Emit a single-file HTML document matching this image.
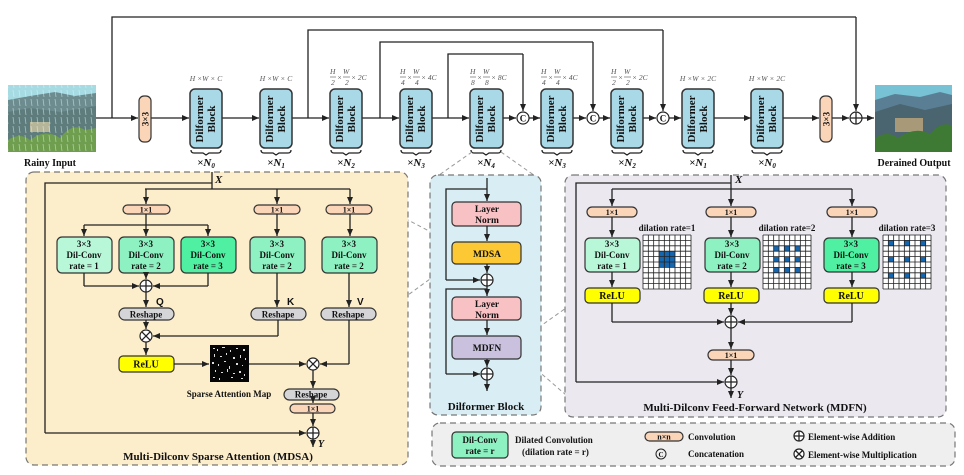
<!DOCTYPE html>
<html><head><meta charset="utf-8"><style>
html,body{margin:0;padding:0;background:#fff}
svg{display:block}
text{font-family:"Liberation Serif",serif;font-weight:bold;fill:#111}
.s{font-family:"Liberation Sans",sans-serif}
.dim{font-weight:normal;font-style:italic;font-size:7.5px;fill:#555}
.ln{stroke:#222;stroke-width:1.3;fill:none}
.ar{stroke:#222;stroke-width:1.3;fill:none;marker-end:url(#a)}
.blk{fill:#a9d9e7;stroke:#333;stroke-width:1.5}
.c11{fill:#fbd5b8;stroke:#333;stroke-width:1.2}
.rs{fill:#d5d5d8;stroke:#333;stroke-width:1.2}
.relu{fill:#ffff00;stroke:#333;stroke-width:1.2}
.dc1{fill:#b9f7d9;stroke:#333;stroke-width:1.2}
.dc2{fill:#8ef1c1;stroke:#333;stroke-width:1.2}
.dc3{fill:#4ff0a1;stroke:#333;stroke-width:1.2}
.op{fill:#fff;stroke:#222;stroke-width:1.2}
.dash{stroke:#999;stroke-width:1;stroke-dasharray:4,3;fill:none}
</style></head><body>
<svg width="964" height="475" viewBox="0 0 964 475" xmlns="http://www.w3.org/2000/svg">
<defs>
<marker id="a" markerWidth="8" markerHeight="8" refX="7" refY="3" orient="auto" markerUnits="userSpaceOnUse"><path d="M0,0 L7,3 L0,6 z" fill="#222"/></marker>
<pattern id="streak" width="6" height="9" patternUnits="userSpaceOnUse"><path d="M1,0 L2,7" stroke="#e8f4f6" stroke-width="0.8" opacity="0.55"/></pattern>
</defs>

<!-- images -->
<rect x="8" y="85" width="88" height="67" fill="#a6dbe4"/>
<path d="M8,100 L30,96 L55,92 L75,96 L96,93 V152 H8 Z" fill="#6c8c90"/>
<path d="M8,112 L30,108 L60,112 L96,106 V152 H8 Z" fill="#5e7c7c"/>
<rect x="30" y="122" width="20" height="10" fill="#b5b59a"/>
<path d="M8,140 Q20,132 30,140 Q45,128 60,138 Q72,122 85,130 L96,128 V152 H8 Z" fill="#6e9e4e"/>
<rect x="8" y="85" width="88" height="67" fill="url(#streak)"/>

<rect x="875" y="85" width="77" height="67" fill="#78c2d6"/>
<path d="M875,100 L895,94 L920,97 L940,92 L952,95 V152 H875 Z" fill="#5a7f94"/>
<path d="M875,112 L900,104 L925,110 L952,104 V152 H875 Z" fill="#4a6470"/>
<rect x="895" y="118" width="28" height="14" fill="#a89a78"/>
<path d="M875,138 Q888,130 898,138 Q915,126 930,134 Q942,120 952,126 V152 H875 Z" fill="#3f7a34"/>

<text x="50" y="166" font-size="10" text-anchor="middle">Rainy Input</text>
<text x="914" y="166" font-size="10" text-anchor="middle">Derained Output</text>

<!-- skip lines -->
<path class="ln" d="M112,118 V17 H856"/><path class="ar" d="M856,17 V111"/>
<path class="ln" d="M308,118 V30 H663"/><path class="ar" d="M663,30 V111"/>
<path class="ln" d="M380,118 V42 H593"/><path class="ar" d="M593,42 V111"/>
<path class="ln" d="M448,118 V54 H523"/><path class="ar" d="M523,54 V111"/>

<!-- main line arrows -->
<path class="ar" d="M96,118 H138"/><path class="ar" d="M151,118 H189"/>
<path class="ar" d="M222,118 H259"/><path class="ar" d="M292,118 H329"/>
<path class="ar" d="M362,118 H399"/><path class="ar" d="M432,118 H469"/>
<path class="ar" d="M503,118 H516"/><path class="ar" d="M529,118 H540"/>
<path class="ar" d="M573,118 H586"/><path class="ar" d="M599,118 H610"/>
<path class="ar" d="M643,118 H656"/><path class="ar" d="M669,118 H681"/>
<path class="ar" d="M714,118 H751"/><path class="ar" d="M782,118 H819"/>
<path class="ar" d="M832,118 H849"/><path class="ar" d="M862,118 H874"/>

<!-- 3x3 convs -->
<rect x="139" y="96" width="12" height="46" rx="5" class="c11"/>
<text transform="translate(148.5,119) rotate(-90)" font-size="9" text-anchor="middle">3×3</text>
<rect x="820" y="96" width="12" height="46" rx="5" class="c11"/>
<text transform="translate(829.5,119) rotate(-90)" font-size="9" text-anchor="middle">3×3</text>

<!-- concat circles and add -->
<circle cx="523" cy="118" r="6" class="op"/><text x="523" y="121.5" font-size="9" text-anchor="middle">C</text>
<circle cx="593" cy="118" r="6" class="op"/><text x="593" y="121.5" font-size="9" text-anchor="middle">C</text>
<circle cx="663" cy="118" r="6" class="op"/><text x="663" y="121.5" font-size="9" text-anchor="middle">C</text>
<circle cx="856" cy="118" r="6" class="op"/><path class="ln" d="M850,118 H862 M856,112 V124"/>

<!-- Dilformer blocks -->
<g font-size="11">
<rect x="190" y="89" width="32" height="59" rx="5" class="blk"/><text transform="translate(206,119) rotate(-90)" text-anchor="middle"><tspan x="0" y="-3">Dilformer</tspan><tspan x="0" y="9">Block</tspan></text>
<rect x="260" y="89" width="32" height="59" rx="5" class="blk"/><text transform="translate(276,119) rotate(-90)" text-anchor="middle"><tspan x="0" y="-3">Dilformer</tspan><tspan x="0" y="9">Block</tspan></text>
<rect x="330" y="89" width="32" height="59" rx="5" class="blk"/><text transform="translate(346,119) rotate(-90)" text-anchor="middle"><tspan x="0" y="-3">Dilformer</tspan><tspan x="0" y="9">Block</tspan></text>
<rect x="400" y="89" width="32" height="59" rx="5" class="blk"/><text transform="translate(416,119) rotate(-90)" text-anchor="middle"><tspan x="0" y="-3">Dilformer</tspan><tspan x="0" y="9">Block</tspan></text>
<rect x="470" y="89" width="33" height="59" rx="5" class="blk"/><text transform="translate(486,119) rotate(-90)" text-anchor="middle"><tspan x="0" y="-3">Dilformer</tspan><tspan x="0" y="9">Block</tspan></text>
<rect x="541" y="89" width="32" height="59" rx="5" class="blk"/><text transform="translate(557,119) rotate(-90)" text-anchor="middle"><tspan x="0" y="-3">Dilformer</tspan><tspan x="0" y="9">Block</tspan></text>
<rect x="611" y="89" width="32" height="59" rx="5" class="blk"/><text transform="translate(627,119) rotate(-90)" text-anchor="middle"><tspan x="0" y="-3">Dilformer</tspan><tspan x="0" y="9">Block</tspan></text>
<rect x="682" y="89" width="32" height="59" rx="5" class="blk"/><text transform="translate(698,119) rotate(-90)" text-anchor="middle"><tspan x="0" y="-3">Dilformer</tspan><tspan x="0" y="9">Block</tspan></text>
<rect x="751" y="89" width="32" height="59" rx="5" class="blk"/><text transform="translate(767,119) rotate(-90)" text-anchor="middle"><tspan x="0" y="-3">Dilformer</tspan><tspan x="0" y="9">Block</tspan></text>
</g>

<!-- braces -->
<g class="ln" stroke-width="0.9">
<path d="M191,150 q0,3 3,3 h9 l3,2 l3,-2 h9 q3,0 3,-3"/>
<path d="M261,150 q0,3 3,3 h9 l3,2 l3,-2 h9 q3,0 3,-3"/>
<path d="M331,150 q0,3 3,3 h9 l3,2 l3,-2 h9 q3,0 3,-3"/>
<path d="M401,150 q0,3 3,3 h9 l3,2 l3,-2 h9 q3,0 3,-3"/>
<path d="M471,150 q0,3 3,3 h9 l3,2 l3,-2 h9 q3,0 3,-3"/>
<path d="M542,150 q0,3 3,3 h9 l3,2 l3,-2 h9 q3,0 3,-3"/>
<path d="M612,150 q0,3 3,3 h9 l3,2 l3,-2 h9 q3,0 3,-3"/>
<path d="M683,150 q0,3 3,3 h9 l3,2 l3,-2 h9 q3,0 3,-3"/>
<path d="M752,150 q0,3 3,3 h9 l3,2 l3,-2 h9 q3,0 3,-3"/>
</g>
<g font-size="11" text-anchor="middle" font-style="italic">
<text x="206" y="166">×N<tspan font-size="7" dy="2">0</tspan></text>
<text x="276" y="166">×N<tspan font-size="7" dy="2">1</tspan></text>
<text x="346" y="166">×N<tspan font-size="7" dy="2">2</tspan></text>
<text x="416" y="166">×N<tspan font-size="7" dy="2">3</tspan></text>
<text x="486" y="166">×N<tspan font-size="7" dy="2">4</tspan></text>
<text x="557" y="166">×N<tspan font-size="7" dy="2">3</tspan></text>
<text x="627" y="166">×N<tspan font-size="7" dy="2">2</tspan></text>
<text x="698" y="166">×N<tspan font-size="7" dy="2">1</tspan></text>
<text x="767" y="166">×N<tspan font-size="7" dy="2">0</tspan></text>
</g>

<!-- dims -->
<g text-anchor="middle">
<text x="206" y="81" class="dim">H ×W × C</text>
<text x="276" y="81" class="dim">H ×W × C</text>
<text x="698" y="81" class="dim">H ×W × 2C</text>
<text x="767" y="81" class="dim">H ×W × 2C</text>
</g>
<g>
<g transform="translate(330,0)"><text x="0" y="74" class="dim">H</text><text x="1" y="85" class="dim">2</text><path d="M0,77 h6" stroke="#555" stroke-width="0.6"/><text x="7" y="80" class="dim">×</text><text x="13" y="74" class="dim">W</text><text x="15" y="85" class="dim">2</text><path d="M13,77 h7" stroke="#555" stroke-width="0.6"/><text x="21" y="80" class="dim">× 2C</text></g>
<g transform="translate(400,0)"><text x="0" y="74" class="dim">H</text><text x="1" y="85" class="dim">4</text><path d="M0,77 h6" stroke="#555" stroke-width="0.6"/><text x="7" y="80" class="dim">×</text><text x="13" y="74" class="dim">W</text><text x="15" y="85" class="dim">4</text><path d="M13,77 h7" stroke="#555" stroke-width="0.6"/><text x="21" y="80" class="dim">× 4C</text></g>
<g transform="translate(470,0)"><text x="0" y="74" class="dim">H</text><text x="1" y="85" class="dim">8</text><path d="M0,77 h6" stroke="#555" stroke-width="0.6"/><text x="7" y="80" class="dim">×</text><text x="13" y="74" class="dim">W</text><text x="15" y="85" class="dim">8</text><path d="M13,77 h7" stroke="#555" stroke-width="0.6"/><text x="21" y="80" class="dim">× 8C</text></g>
<g transform="translate(541,0)"><text x="0" y="74" class="dim">H</text><text x="1" y="85" class="dim">4</text><path d="M0,77 h6" stroke="#555" stroke-width="0.6"/><text x="7" y="80" class="dim">×</text><text x="13" y="74" class="dim">W</text><text x="15" y="85" class="dim">4</text><path d="M13,77 h7" stroke="#555" stroke-width="0.6"/><text x="21" y="80" class="dim">× 4C</text></g>
<g transform="translate(611,0)"><text x="0" y="74" class="dim">H</text><text x="1" y="85" class="dim">2</text><path d="M0,77 h6" stroke="#555" stroke-width="0.6"/><text x="7" y="80" class="dim">×</text><text x="13" y="74" class="dim">W</text><text x="15" y="85" class="dim">2</text><path d="M13,77 h7" stroke="#555" stroke-width="0.6"/><text x="21" y="80" class="dim">× 2C</text></g>
</g>

<!-- connector dashed lines -->
<path class="dash" d="M472,152 L432,180 M501,152 L538,178"/>
<path class="dash" d="M452,243 L408,220 M452,263 L408,295"/>
<path class="dash" d="M521,340 L566,308 M521,356 L566,395"/>

<!-- MDSA panel -->
<rect x="26" y="172" width="382" height="293" rx="8" fill="#fcedcb" stroke="#777" stroke-width="1.2" stroke-dasharray="6,4"/>
<text x="215" y="183" font-size="11" font-style="italic">X</text>
<path class="ln" d="M212,172 V189 M212,183 H45 V433"/><path class="ar" d="M45,433 H306"/>
<path class="ln" d="M145,189 H350"/>
<path class="ar" d="M146,189 V204"/><path class="ar" d="M277,189 V204"/><path class="ar" d="M350,189 V204"/>
<g font-size="9" text-anchor="middle">
<rect x="123" y="205" width="47" height="9" rx="4.5" class="c11"/><text x="146" y="212.5" font-size="8">1×1</text>
<rect x="254" y="205" width="46" height="9" rx="4.5" class="c11"/><text x="277" y="212.5" font-size="8">1×1</text>
<rect x="326" y="205" width="46" height="9" rx="4.5" class="c11"/><text x="349" y="212.5" font-size="8">1×1</text>
</g>
<path class="ln" d="M146,214 V225 M84,225 H208"/>
<path class="ar" d="M84,225 V236"/><path class="ar" d="M146,225 V236"/><path class="ar" d="M208,225 V236"/>
<path class="ar" d="M277,214 V236"/><path class="ar" d="M350,214 V236"/>
<g font-size="9" text-anchor="middle">
<rect x="57" y="237" width="55" height="36" rx="5" class="dc1"/><text x="84" y="247">3×3</text><text x="84" y="258">Dil-Conv</text><text x="84" y="269">rate = 1</text>
<rect x="119" y="237" width="55" height="36" rx="5" class="dc2"/><text x="146" y="247">3×3</text><text x="146" y="258">Dil-Conv</text><text x="146" y="269">rate = 2</text>
<rect x="181" y="237" width="55" height="36" rx="5" class="dc3"/><text x="208" y="247">3×3</text><text x="208" y="258">Dil-Conv</text><text x="208" y="269">rate = 3</text>
<rect x="250" y="237" width="55" height="36" rx="5" class="dc2"/><text x="277" y="247">3×3</text><text x="277" y="258">Dil-Conv</text><text x="277" y="269">rate = 2</text>
<rect x="322" y="237" width="55" height="36" rx="5" class="dc2"/><text x="349" y="247">3×3</text><text x="349" y="258">Dil-Conv</text><text x="349" y="269">rate = 2</text>
</g>
<path class="ln" d="M84,273 V286"/><path class="ar" d="M84,286 H139"/>
<path class="ln" d="M208,273 V286"/><path class="ar" d="M208,286 H153"/>
<path class="ar" d="M146,273 V279"/>
<circle cx="146" cy="286" r="6" class="op"/><path class="ln" d="M140,286 H152 M146,280 V292"/>
<path class="ar" d="M146,292 V307"/>
<path class="ar" d="M277,273 V307"/><path class="ar" d="M349,273 V307"/>
<text x="156" y="305" font-size="10" class="s">Q</text>
<text x="287" y="305" font-size="10" class="s">K</text>
<text x="357" y="305" font-size="10" class="s">V</text>
<g font-size="9" text-anchor="middle">
<rect x="119" y="308" width="55" height="12" rx="6" class="rs"/><text x="146" y="317.5">Reshape</text>
<rect x="251" y="308" width="55" height="12" rx="6" class="rs"/><text x="278" y="317.5">Reshape</text>
<rect x="321" y="308" width="55" height="12" rx="6" class="rs"/><text x="348" y="317.5">Reshape</text>
</g>
<path class="ar" d="M146,320 V329"/>
<path class="ln" d="M278,320 V336"/><path class="ar" d="M278,336 H153"/>
<circle cx="146" cy="336" r="6" class="op"/><path class="ln" d="M141.8,331.8 L150.2,340.2 M150.2,331.8 L141.8,340.2"/>
<path class="ar" d="M146,342 V355"/>
<rect x="119" y="356" width="55" height="16" rx="4" class="relu"/><text x="146" y="367.5" font-size="10" text-anchor="middle">ReLU</text>
<path class="ar" d="M174,364 H209"/>
<rect x="210" y="345" width="39" height="37" fill="#050505"/>
<g fill="#ddd">
<rect x="213" y="348" width="2" height="1"/><rect x="217" y="349" width="1" height="2"/><rect x="222" y="347" width="3" height="1"/><rect x="230" y="350" width="1" height="2"/><rect x="236" y="348" width="2" height="1"/><rect x="243" y="349" width="2" height="2"/>
<rect x="214" y="354" width="1" height="3"/><rect x="220" y="356" width="2" height="1"/><rect x="226" y="353" width="1" height="2"/><rect x="233" y="357" width="2" height="2"/><rect x="240" y="355" width="1" height="3"/><rect x="245" y="358" width="1" height="2"/>
<rect x="212" y="362" width="2" height="2"/><rect x="218" y="364" width="1" height="2"/><rect x="224" y="361" width="2" height="1"/><rect x="229" y="366" width="1" height="3"/><rect x="236" y="363" width="2" height="2"/><rect x="242" y="365" width="1" height="1"/>
<rect x="215" y="370" width="1" height="2"/><rect x="221" y="372" width="2" height="1"/><rect x="227" y="369" width="1" height="3"/><rect x="233" y="373" width="2" height="1"/><rect x="239" y="371" width="2" height="2"/><rect x="244" y="374" width="1" height="2"/>
<rect x="213" y="377" width="2" height="1"/><rect x="219" y="378" width="1" height="2"/><rect x="231" y="377" width="2" height="1"/><rect x="241" y="378" width="2" height="1"/>
</g>
<text x="229" y="397" font-size="9" text-anchor="middle">Sparse Attention Map</text>
<path class="ar" d="M249,364 H306"/>
<path class="ln" d="M349,320 V364"/><path class="ar" d="M349,364 H320"/>
<circle cx="313" cy="364" r="6" class="op"/><path class="ln" d="M308.8,359.8 L317.2,368.2 M317.2,359.8 L308.8,368.2"/>
<path class="ar" d="M313,370 V388"/>
<rect x="284" y="389" width="55" height="11" rx="5.5" class="rs"/><text x="311" y="397.5" font-size="9" text-anchor="middle">Reshape</text>
<path class="ar" d="M313,400 V403"/>
<rect x="290" y="404" width="45" height="9" rx="4.5" class="c11"/><text x="313" y="411.5" font-size="8" text-anchor="middle">1×1</text>
<path class="ar" d="M313,413 V426"/>
<circle cx="313" cy="433" r="6" class="op"/><path class="ln" d="M307,433 H319 M313,427 V439"/>
<path class="ar" d="M313,439 V447"/>
<text x="318" y="447" font-size="10" font-style="italic">Y</text>
<text x="218" y="460" font-size="11" text-anchor="middle">Multi-Dilconv Sparse Attention (MDSA)</text>

<!-- Dilformer Block panel -->
<rect x="430" y="175" width="111" height="240" rx="8" fill="#d9eef4" stroke="#777" stroke-width="1.2" stroke-dasharray="6,4"/>
<path class="ar" d="M487,178 V201"/>
<path class="ln" d="M487,189 H446 V280"/><path class="ar" d="M446,280 H480"/>
<rect x="452" y="202" width="69" height="24" rx="4" fill="#f8c1c4" stroke="#333" stroke-width="1.2"/>
<text x="487" y="212" font-size="9.5" text-anchor="middle">Layer</text><text x="487" y="223" font-size="9.5" text-anchor="middle">Norm</text>
<path class="ar" d="M487,226 V241"/>
<rect x="452" y="242" width="69" height="22" rx="4" fill="#fcc934" stroke="#333" stroke-width="1.2"/>
<text x="487" y="257" font-size="9.5" text-anchor="middle">MDSA</text>
<path class="ar" d="M487,264 V273"/>
<circle cx="487" cy="280" r="6" class="op"/><path class="ln" d="M481,280 H493 M487,274 V286"/>
<path class="ar" d="M487,286 V296"/>
<path class="ln" d="M487,289 H446 V374"/><path class="ar" d="M446,374 H480"/>
<rect x="452" y="297" width="69" height="23" rx="4" fill="#f8c1c4" stroke="#333" stroke-width="1.2"/>
<text x="487" y="307" font-size="9.5" text-anchor="middle">Layer</text><text x="487" y="318" font-size="9.5" text-anchor="middle">Norm</text>
<path class="ar" d="M487,320 V335"/>
<rect x="452" y="336" width="69" height="23" rx="4" fill="#c9c1dd" stroke="#333" stroke-width="1.2"/>
<text x="487" y="351" font-size="9.5" text-anchor="middle">MDFN</text>
<path class="ar" d="M487,359 V367"/>
<circle cx="487" cy="374" r="6" class="op"/><path class="ln" d="M481,374 H493 M487,368 V380"/>
<path class="ar" d="M487,380 V391"/>
<text x="486" y="410" font-size="11" text-anchor="middle">Dilformer Block</text>

<!-- MDFN panel -->
<rect x="565" y="175" width="381" height="242" rx="8" fill="#ebe8f0" stroke="#777" stroke-width="1.2" stroke-dasharray="6,4"/>
<text x="735" y="183" font-size="11" font-style="italic">X</text>
<path class="ln" d="M731,175 V189 M731,183 H576 V382"/><path class="ar" d="M576,382 H724"/>
<path class="ln" d="M612,189 H852"/>
<path class="ar" d="M612,189 V206"/><path class="ar" d="M731,189 V206"/><path class="ar" d="M852,189 V206"/>
<rect x="587" y="207" width="50" height="10" rx="5" class="c11"/><text x="612" y="215" font-size="8" text-anchor="middle">1×1</text>
<rect x="706" y="207" width="50" height="10" rx="5" class="c11"/><text x="731" y="215" font-size="8" text-anchor="middle">1×1</text>
<rect x="827" y="207" width="50" height="10" rx="5" class="c11"/><text x="852" y="215" font-size="8" text-anchor="middle">1×1</text>
<path class="ar" d="M612,217 V237"/><path class="ar" d="M731,217 V237"/><path class="ar" d="M852,217 V237"/>
<g font-size="9" text-anchor="middle">
<rect x="585" y="238" width="55" height="34" rx="5" class="dc1"/><text x="612" y="247">3×3</text><text x="612" y="258">Dil-Conv</text><text x="612" y="269">rate = 1</text>
<rect x="705" y="238" width="55" height="34" rx="5" class="dc2"/><text x="732" y="247">3×3</text><text x="732" y="258">Dil-Conv</text><text x="732" y="269">rate = 2</text>
<rect x="824" y="238" width="55" height="34" rx="5" class="dc3"/><text x="851" y="247">3×3</text><text x="851" y="258">Dil-Conv</text><text x="851" y="269">rate = 3</text>
</g>
<path class="ar" d="M612,272 V287"/><path class="ar" d="M731,272 V287"/><path class="ar" d="M852,272 V287"/>
<rect x="585" y="288" width="55" height="15" rx="4" class="relu"/><text x="612" y="299" font-size="10" text-anchor="middle">ReLU</text>
<rect x="704" y="288" width="55" height="15" rx="4" class="relu"/><text x="731" y="299" font-size="10" text-anchor="middle">ReLU</text>
<rect x="824" y="288" width="55" height="15" rx="4" class="relu"/><text x="851" y="299" font-size="10" text-anchor="middle">ReLU</text>
<path class="ln" d="M612,303 V322"/><path class="ar" d="M612,322 H724"/>
<path class="ln" d="M852,303 V322"/><path class="ar" d="M852,322 H738"/>
<path class="ar" d="M731,303 V315"/>
<circle cx="731" cy="322" r="6" class="op"/><path class="ln" d="M725,322 H737 M731,316 V328"/>
<path class="ar" d="M731,328 V349"/>
<rect x="708" y="350" width="46" height="10" rx="5" class="c11"/><text x="731" y="358" font-size="8" text-anchor="middle">1×1</text>
<path class="ar" d="M731,360 V375"/>
<circle cx="731" cy="382" r="6" class="op"/><path class="ln" d="M725,382 H737 M731,376 V388"/>
<path class="ar" d="M731,388 V398"/>
<text x="737" y="398" font-size="10" font-style="italic">Y</text>
<text x="755" y="411" font-size="11" text-anchor="middle">Multi-Dilconv Feed-Forward Network (MDFN)</text>

<!-- grids -->
<text x="667" y="231" font-size="9" text-anchor="middle">dilation rate=1</text>
<text x="787" y="231" font-size="9" text-anchor="middle">dilation rate=2</text>
<text x="907" y="231" font-size="9" text-anchor="middle">dilation rate=3</text>
<rect x="643" y="235" width="48" height="54" fill="#fff"/>
<rect x="763" y="235" width="48" height="54" fill="#fff"/>
<rect x="883" y="235" width="48" height="54" fill="#fff"/>
<g fill="#1466b0">
<rect x="659" y="251.2" width="16" height="16.2"/>
<rect x="773.7" y="245.8" width="5.33" height="5.4"/><rect x="784.3" y="245.8" width="5.33" height="5.4"/><rect x="795" y="245.8" width="5.33" height="5.4"/>
<rect x="773.7" y="256.6" width="5.33" height="5.4"/><rect x="784.3" y="256.6" width="5.33" height="5.4"/><rect x="795" y="256.6" width="5.33" height="5.4"/>
<rect x="773.7" y="267.4" width="5.33" height="5.4"/><rect x="784.3" y="267.4" width="5.33" height="5.4"/><rect x="795" y="267.4" width="5.33" height="5.4"/>
<rect x="888.3" y="240.4" width="5.33" height="5.4"/><rect x="904.3" y="240.4" width="5.33" height="5.4"/><rect x="920.3" y="240.4" width="5.33" height="5.4"/>
<rect x="888.3" y="256.6" width="5.33" height="5.4"/><rect x="904.3" y="256.6" width="5.33" height="5.4"/><rect x="920.3" y="256.6" width="5.33" height="5.4"/>
<rect x="888.3" y="272.8" width="5.33" height="5.4"/><rect x="904.3" y="272.8" width="5.33" height="5.4"/><rect x="920.3" y="272.8" width="5.33" height="5.4"/>
</g>
<g fill="none" stroke="#222" stroke-width="0.8">
<path id="gl" d="M643,235 v54 M648.33,235 v54 M653.67,235 v54 M659,235 v54 M664.33,235 v54 M669.67,235 v54 M675,235 v54 M680.33,235 v54 M685.67,235 v54 M691,235 v54 M643,235 h48 M643,240.4 h48 M643,245.8 h48 M643,251.2 h48 M643,256.6 h48 M643,262 h48 M643,267.4 h48 M643,272.8 h48 M643,278.2 h48 M643,283.6 h48 M643,289 h48"/>
<use href="#gl" x="120"/>
<use href="#gl" x="240"/>
</g>

<!-- legend -->
<rect x="432" y="423" width="523" height="43" rx="8" fill="#efefef" stroke="#777" stroke-width="1.2" stroke-dasharray="6,4"/>
<rect x="452" y="432" width="56" height="26" rx="4" class="dc2"/>
<text x="480" y="443" font-size="9" text-anchor="middle">Dil-Conv</text><text x="480" y="454" font-size="9" text-anchor="middle">rate = r</text>
<text x="515" y="443" font-size="9">Dilated  Convolution</text>
<text x="522" y="455" font-size="9">(dilation rate = r)</text>
<rect x="645" y="432" width="38" height="9" rx="4.5" class="c11"/><text x="664" y="439.5" font-size="8" text-anchor="middle">n×n</text>
<text x="688" y="440" font-size="9">Convolution</text>
<circle cx="661" cy="454" r="5" fill="none" stroke="#222" stroke-width="1"/><text x="661" y="457" font-size="7" text-anchor="middle">C</text>
<text x="688" y="457" font-size="9">Concatenation</text>
<circle cx="799" cy="436" r="5" class="op"/><path class="ln" d="M794,436 H804 M799,431 V441" stroke-width="1"/>
<text x="808" y="440" font-size="9">Element-wise Addition</text>
<circle cx="799" cy="454" r="5" class="op"/><path class="ln" d="M795.5,450.5 L802.5,457.5 M802.5,450.5 L795.5,457.5" stroke-width="1"/>
<text x="808" y="458" font-size="9">Element-wise Multiplication</text>
</svg>
</body></html>
